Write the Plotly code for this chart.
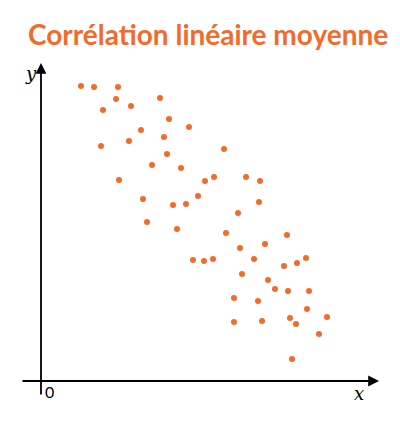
import plotly.graph_objects as go

# pixel-read positions converted to arbitrary units (x right, y up from origin)
px = [80,93,117,102,115,130,159,100,128,140,118,151,163,168,188,166,180,142,146,172,185,197,204,213,223,176,192,203,212,225,237,245,259,258,239,241,253,264,286,233,233,257,261,267,274,283,287,296,305,308,289,295,306,318,326,291]
py = [85,86,86,109,98,105,97,145,140,129,179,164,136,118,126,153,167,198,221,204,203,195,180,176,148,228,259,260,258,232,212,176,180,201,247,273,258,243,234,297,321,300,320,279,288,265,290,262,257,290,317,323,308,333,316,358]
xs = [p - 40 for p in px]
ys = [380 - p for p in py]

orange = "#F26B2C"
fig = go.Figure(go.Scatter(x=xs, y=ys, mode="markers",
                           marker=dict(color=orange, size=6)))
fig.update_layout(
    width=400, height=421, margin=dict(l=0, r=0, t=0, b=0),
    plot_bgcolor="white", paper_bgcolor="white", showlegend=False,
    xaxis=dict(range=[-33, 367], visible=False),
    yaxis=dict(range=[-48, 373], visible=False),
    annotations=[
        dict(x=338, y=0, ax=-20, ay=0, xref="x", yref="y", axref="x", ayref="y",
             showarrow=True, arrowhead=2, arrowsize=1.2, arrowwidth=1.8, arrowcolor="black", text=""),
        dict(x=0, y=318, ax=0, ay=-15, xref="x", yref="y", axref="x", ayref="y",
             showarrow=True, arrowhead=2, arrowsize=1.2, arrowwidth=1.8, arrowcolor="black", text=""),
        dict(x=8, y=-10, text="0", showarrow=False, font=dict(size=16, color="black", family="Lato")),
        dict(x=318, y=-12, text="<i>x</i>", showarrow=False, font=dict(size=18, color="black", family="DejaVu Serif")),
        dict(x=-10, y=308, text="<i>y</i>", showarrow=False, font=dict(size=18, color="black", family="DejaVu Serif")),
        dict(x=0.5, y=1 - 26/421, xref="paper", yref="paper", yanchor="middle",
             text="<b>Corrélation linéaire moyenne</b>",
             showarrow=False, font=dict(size=28, color=orange, family="Lato")),
    ],
)
fig.write_html("out.html")
